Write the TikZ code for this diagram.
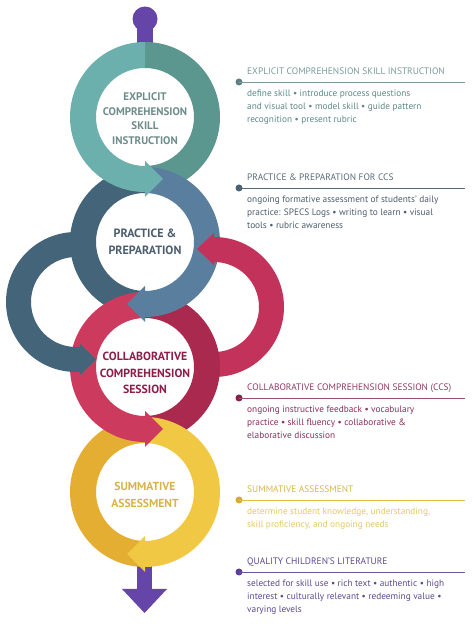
\documentclass[tikz,border=0pt]{standalone}
\usepackage{fontspec}
\setmainfont{PT Sans}
\usetikzlibrary{calc}
\definecolor{tealL}{HTML}{6BB0AC}
\definecolor{tealD}{HTML}{5B968F}
\definecolor{tealT}{HTML}{6E8C8A}
\definecolor{slateD}{HTML}{446479}
\definecolor{slateL}{HTML}{5A7F9E}
\definecolor{slateT}{HTML}{4B5D6F}
\definecolor{redL}{HTML}{CC3B5E}
\definecolor{redD}{HTML}{A9294F}
\definecolor{redA}{HTML}{C3325A}
\definecolor{redT}{HTML}{8C1E4A}
\definecolor{goldD}{HTML}{E3AE32}
\definecolor{goldL}{HTML}{F1C843}
\definecolor{goldT}{HTML}{D8B34A}
\definecolor{purp}{HTML}{6645A8}
\definecolor{aT}{HTML}{7C9B9B}\definecolor{aB}{HTML}{5E8989}\definecolor{aL}{HTML}{7F9A9A}\definecolor{aD}{HTML}{5E8080}
\definecolor{bT}{HTML}{5B6B79}\definecolor{bB}{HTML}{4D5D6D}\definecolor{bL}{HTML}{55687A}\definecolor{bD}{HTML}{4A6275}
\definecolor{cT}{HTML}{8E3D62}\definecolor{cB}{HTML}{8A2F5A}\definecolor{cL}{HTML}{9A5070}\definecolor{cD}{HTML}{8C2048}
\definecolor{dT}{HTML}{D9B552}\definecolor{dB}{HTML}{E5C76C}\definecolor{dL}{HTML}{E2BC46}\definecolor{dD}{HTML}{D9AA30}
\definecolor{eT}{HTML}{5E4C92}\definecolor{eB}{HTML}{5C4A90}\definecolor{eL}{HTML}{6C54A4}\definecolor{eD}{HTML}{5C3F98}
% annulus sector: center, start, end, inner, outer
\newcommand{\ringsector}[5]{([shift={(#2:#5)}]#1) arc[start angle=#2, end angle=#3, radius=#5] -- ([shift={(#3:#4)}]#1) arc[start angle=#3, end angle=#2, radius=#4] -- cycle}
\tikzset{
  lbl/.style={align=center, inner sep=0pt, font=\bfseries\fontsize{11}{14.5}\selectfont},
  ttl/.style={anchor=base west, inner sep=0pt, font=\fontsize{9.4}{10}\selectfont},
  bdy/.style={anchor=base west, inner sep=0pt, font=\fontsize{9.3}{11}\selectfont},
  dotn/.style={circle, inner sep=0pt, minimum size=7pt},
  rule/.style={line width=0.9pt}
}
\begin{document}
\begin{tikzpicture}[x=1pt,y=1pt]
\useasboundingbox (0,0) rectangle (474,624);
\fill[white] (0,0) rectangle (474,624);
\coordinate (tc) at (145,507);
\coordinate (pc) at (145,382);
\coordinate (cc) at (145,257);
\coordinate (sc) at (145,132);
\coordinate (ac) at (76,322);
\coordinate (rc) at (214,317);
% purple top and bottom
\fill[purp] (137,579) rectangle (153,605);
\fill[purp] (145,605) circle[radius=12.5];
\fill[purp] (137,32) rectangle (152,60);
\fill[purp] (122,35) -- (167,35) -- (144.5,11) -- cycle;
% red right arc, lower part (under CCS ring)
\fill[redA] \ringsector{rc}{-90}{1}{45}{70};
% dark halves
\fill[tealD] \ringsector{tc}{270}{450}{49}{75};
\fill[slateD] \ringsector{pc}{90}{270}{49}{75};
\fill[redD] \ringsector{cc}{270}{450}{49}{75};
\fill[goldD] \ringsector{sc}{90}{270}{49}{75};
% light halves with arrowheads, bottom to top
\fill[goldL] \ringsector{sc}{90}{-90}{49}{75} ([shift={(0,-44)}]sc) -- ([shift={(-18,-62)}]sc) -- ([shift={(0,-80)}]sc) -- cycle;
\fill[redL] \ringsector{cc}{90}{270}{49}{75} ([shift={(0,-44)}]cc) -- ([shift={(18,-62)}]cc) -- ([shift={(0,-80)}]cc) -- cycle;
\fill[slateL] \ringsector{pc}{90}{-90}{49}{75} ([shift={(0,-44)}]pc) -- ([shift={(-18,-62)}]pc) -- ([shift={(0,-80)}]pc) -- cycle;
\fill[tealL] \ringsector{tc}{90}{270}{49}{75} ([shift={(0,-44)}]tc) -- ([shift={(18,-62)}]tc) -- ([shift={(0,-80)}]tc) -- cycle;
% slate left loop arc
\fill[slateD] \ringsector{ac}{90}{270}{45}{70} ([shift={(-0.5,-45)}]ac) rectangle ([shift={(4,-70)}]ac) ([shift={(4,-42)}]ac) -- ([shift={(20,-57.5)}]ac) -- ([shift={(4,-73)}]ac) -- cycle;
% red right arc, upper part with arrowhead
\fill[redA] \ringsector{rc}{0}{90}{45}{70} ([shift={(0,42)}]rc) -- ([shift={(-17,58)}]rc) -- ([shift={(0,74)}]rc) -- cycle;
% circle labels
\node[lbl, text=tealT] (l1) at ([shift={(0,-1.5)}]tc) {EXPLICIT\\COMPREHENSION\\SKILL\\INSTRUCTION};
\node[lbl, text=slateT, font=\bfseries\fontsize{12}{17}\selectfont] (l2) at (pc) {PRACTICE \&\\PREPARATION};
\node[lbl, text=redT, font=\bfseries\fontsize{11.8}{16.5}\selectfont] (l3) at ([shift={(0,-6)}]cc) {COLLABORATIVE\\COMPREHENSION\\SESSION};
\node[lbl, text=goldT, font=\bfseries\fontsize{11.6}{17}\selectfont] (l4) at ([shift={(0,-2.5)}]sc) {SUMMATIVE\\ASSESSMENT};
% section 1
\node[dotn, fill=aD] (d1) at (239,542) {};
\coordinate (e1) at (465,542);
\draw[rule, aL] (d1.center) -- (e1);
\node[ttl, text=aT] (t1) at ($(d1)+(8,7)$) {EXPLICIT COMPREHENSION SKILL INSTRUCTION};
\node[bdy, text=aB] (b1a) at ($(d1)+(8,-15)$) {define skill • introduce process questions};
\node[bdy, text=aB] (b1b) at ($(d1)+(8,-28)$) {and visual tool • model skill • guide pattern};
\node[bdy, text=aB] (b1c) at ($(d1)+(8,-41)$) {recognition • present rubric};
% section 2
\node[dotn, fill=bD] (d2) at (239,436) {};
\coordinate (e2) at (465,436);
\draw[rule, bL] (d2.center) -- (e2);
\node[ttl, text=bT] (t2) at ($(d2)+(8,7)$) {PRACTICE \& PREPARATION FOR CCS};
\node[bdy, text=bB] (b2a) at ($(d2)+(8,-15)$) {ongoing formative assessment of students’ daily};
\node[bdy, text=bB] (b2b) at ($(d2)+(8,-28)$) {practice: SPECS Logs • writing to learn • visual};
\node[bdy, text=bB] (b2c) at ($(d2)+(8,-41)$) {tools • rubric awareness};
% section 3
\node[dotn, fill=cD] (d3) at (239,226) {};
\coordinate (e3) at (465,226);
\draw[rule, cL] (d3.center) -- (e3);
\node[ttl, text=cT] (t3) at ($(d3)+(8,7)$) {COLLABORATIVE COMPREHENSION SESSION (CCS)};
\node[bdy, text=cB] (b3a) at ($(d3)+(8,-15)$) {ongoing instructive feedback • vocabulary};
\node[bdy, text=cB] (b3b) at ($(d3)+(8,-27.8)$) {practice • skill fluency • collaborative \&};
\node[bdy, text=cB] (b3c) at ($(d3)+(8,-40.6)$) {elaborative discussion};
% section 4
\node[dotn, fill=dD] (d4) at (239,124) {};
\coordinate (e4) at (465,124);
\draw[rule, dL] (d4.center) -- (e4);
\node[ttl, text=dT] (t4) at ($(d4)+(8,7)$) {SUMMATIVE ASSESSMENT};
\node[bdy, text=dB] (b4a) at ($(d4)+(8,-15)$) {determine student knowledge, understanding,};
\node[bdy, text=dB] (b4b) at ($(d4)+(8,-27.8)$) {skill proficiency, and ongoing needs};
% section 5
\node[dotn, fill=eD] (d5) at (239,52) {};
\coordinate (e5) at (465,52);
\draw[rule, eL] (d5.center) -- (e5);
\node[ttl, text=eT] (t5) at ($(d5)+(8,7)$) {QUALITY CHILDREN’S LITERATURE};
\node[bdy, text=eB] (b5a) at ($(d5)+(8,-15)$) {selected for skill use • rich text • authentic • high};
\node[bdy, text=eB] (b5b) at ($(d5)+(8,-27.8)$) {interest • culturally relevant • redeeming value •};
\node[bdy, text=eB] (b5c) at ($(d5)+(8,-40.6)$) {varying levels};
\end{tikzpicture}
\end{document}
